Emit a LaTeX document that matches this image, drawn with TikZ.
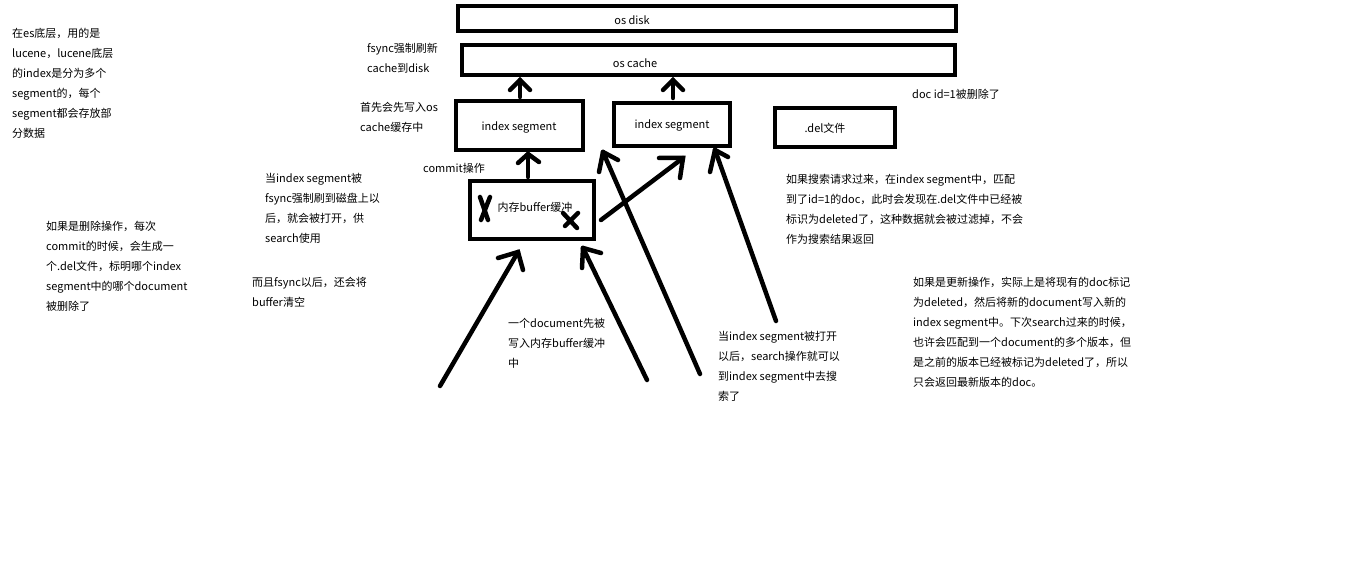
\documentclass[tikz,border=0pt]{standalone}
\usepackage{fontspec}
\setmainfont{Noto Sans CJK SC}
\begin{document}
\begin{tikzpicture}[x=1pt,y=-1pt,
  bx/.style={draw,line width=4pt},
  ln/.style={line width=4.5pt,line cap=round},
  txt/.style={anchor=west,inner sep=0pt,align=left,font=\fontsize{11}{20}\selectfont},
  lbl/.style={font=\fontsize{11}{13}\selectfont}]
\useasboundingbox (0,0) rectangle (1360,561);
\draw[bx] (458,6) rectangle (956,31); \node[lbl] (disk) at (632,20) {os disk};
\draw[bx] (462,45) rectangle (955,75); \node[lbl] (cache) at (635,63) {os cache};
\draw[bx] (456,101) rectangle (583,150); \node[lbl] (seg1) at (519,127) {index segment};
\draw[bx] (614,103) rectangle (730,146); \node[lbl] (seg2) at (672,125) {index segment};
\draw[bx] (775,108) rectangle (895,147); \node[lbl] (del) at (825,128) {.del文件};
\draw[bx] (470,181) rectangle (594,239); \node[lbl] (buf) at (535,207) {内存buffer缓冲};
% X marks
\draw[ln] (480,197) -- (488,220); \draw[ln] (490,197) -- (481,220);
\draw[ln] (563,213) -- (577,228); \draw[ln] (578,213) -- (565,226);
% arrows
\newcommand\arr[4]{%
  \draw[ln] (#1,#2) -- (#3,#4);
  \path (#1,#2) -- (#3,#4) coordinate[pos=1] (tip);
  \draw[ln] ($(tip)!14pt!35:(#1,#2)$) -- (tip) -- ($(tip)!14pt!-35:(#1,#2)$);}
\coordinate (a1) at (520,96); \coordinate (b1) at (520,80);
\draw[ln] (520,97) -- (520,80); \draw[ln] (510,90) -- (520,80) -- (530,90);
\draw[ln] (673,98) -- (673,80); \draw[ln] (663,90) -- (673,80) -- (683,90);
\draw[ln] (528,177) -- (528,154); \draw[ln] (518,163) -- (528,154) -- (539,162);
\draw[ln] (440,386) -- (518,252); \draw[ln] (498,258) -- (518,252) -- (523,270);
\draw[ln] (647,380) -- (583,248); \draw[ln] (583,248) -- (601,253); \draw[ln] (583,248) -- (582,268);
\draw[ln] (700,374) -- (603,152); \draw[ln] (603,152) -- (599,172); \draw[ln] (603,152) -- (618,160);
\draw[ln] (776,321) -- (715,150); \draw[ln] (715,150) -- (710,172); \draw[ln] (715,150) -- (728,157);
\draw[ln] (601,220) -- (683,158); \draw[ln] (659,158) -- (683,158) -- (680,178);
% texts
\node[txt] (t1) at (12,83) {在es底层，用的是\\lucene，lucene底层\\的index是分为多个\\segment的，每个\\segment都会存放部\\分数据};
\node[txt] (t2) at (367,58) {fsync强制刷新\\cache到disk};
\node[txt] (t3) at (360,117) {首先会先写入os\\cache缓存中};
\node[txt] (t4) at (423,168) {commit操作};
\node[txt] (t5) at (265,208) {当index segment被\\fsync强制刷到磁盘上以\\后，就会被打开，供\\search使用};
\node[txt] (t6) at (252,292) {而且fsync以后，还会将\\buffer清空};
\node[txt] (t7) at (46,266) {如果是删除操作，每次\\commit的时候，会生成一\\个.del文件，标明哪个index\\segment中的哪个document\\被删除了};
\node[txt] (t8) at (508,343) {一个document先被\\写入内存buffer缓冲\\中};
\node[txt] (t9) at (718,366) {当index segment被打开\\以后，search操作就可以\\到index segment中去搜\\索了};
\node[txt] (t10) at (912,94) {doc id=1被删除了};
\node[txt] (t11) at (786,209) {如果搜索请求过来，在index segment中，匹配\\到了id=1的doc，此时会发现在.del文件中已经被\\标识为deleted了，这种数据就会被过滤掉，不会\\作为搜索结果返回};
\node[txt] (t12) at (913,332) {如果是更新操作，实际上是将现有的doc标记\\为deleted，然后将新的document写入新的\\index segment中。下次search过来的时候，\\也许会匹配到一个document的多个版本，但\\是之前的版本已经被标记为deleted了，所以\\只会返回最新版本的doc。};
\end{tikzpicture}
\end{document}
